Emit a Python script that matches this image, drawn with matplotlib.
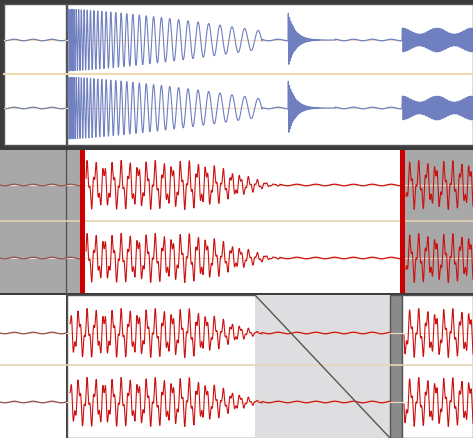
import matplotlib
matplotlib.use('Agg')
import numpy as np
import matplotlib.pyplot as plt
from matplotlib.patches import Rectangle

W, H = 473, 438
# track layout (pixel rows): top, bottom, channel centres, channel divider
TRACK_TOPS = [0, 150, 295]
TRACK_BOTS = [147, 293, 438]
CH_CENTRES = [[40, 108], [185, 258], [333, 402]]
CH_DIVIDERS = [74, 221, 365]

# clip edges in pixels
BLUE_CLIP = [67, 473]
RED_SEL = [84, 400]
FADE = [255, 390]
TRACK3_CLIP_B = [402, 473]

# waveform shape parameters (start, end, amplitude)
CHIRP = [68, 262, 31, 9]          # start x, end x, start amp, end amp
BURST = [288, 335, 28]
DENSE_BLUE = [402, 473, 12]
RED_WAVE = [86, 280, 22]


def chirp(x0, x1, a0, a1):
    x = np.linspace(x0, x1, 2500)
    u = (x - x0) / (x1 - x0)
    period = 1.6 + 12.5 * u ** 0.9
    phase = np.cumsum(2 * np.pi / period * (x[1] - x[0]))
    amp = a0 + (a1 - a0) * u ** 1.3
    return x, amp * np.sin(phase)


def burst(x0, x1, a):
    x = np.linspace(x0, x1, 600)
    env = a * np.exp(-(x - x0) / 7.0)
    return x, env * np.sin(2 * np.pi * (x - x0) / 1.2)


def dense(x0, x1, a):
    x = np.linspace(x0, x1, 800)
    env = a * (0.75 + 0.25 * np.cos(2 * np.pi * (x - x0) / 35))
    return x, env * np.sin(2 * np.pi * (x - x0) / 1.5)


def red(x0, x1, a, decay_from=200, decay_to=275):
    x = np.linspace(x0, x1, 1500)
    base = np.sin(2 * np.pi * x / 8.5) + 0.45 * np.sin(2 * np.pi * x / 3.1 + 1)
    env = np.where(x < decay_from, 1.0,
                   np.clip(1 - (x - decay_from) / (decay_to - decay_from), 0.05, 1))
    return x, a * env * base / 1.3


fig = plt.figure(figsize=(W / 100, H / 100), dpi=100)
ax = fig.add_axes([0, 0, 1, 1])
ax.set_xlim(0, W)
ax.set_ylim(H, 0)
ax.axis('off')
ax.add_patch(Rectangle((0, 0), W, H, color='#3c3c3c', zorder=0))

blue = '#6f7fc0'
redc = '#cc1010'


def flat(xa, xb, yc, col):
    x = np.linspace(xa, xb, 200)
    ax.plot(x, yc + 0.8 * np.sin(x / 3), color=col, lw=0.9, zorder=3)


def wave(x, y, yc, col):
    ax.plot(x, yc - y, color=col, lw=0.8, zorder=3)


# ---- track 1
t, b = TRACK_TOPS[0], TRACK_BOTS[0]
ax.add_patch(Rectangle((4, t + 4), 62, b - t - 6, fc='white', ec='#555555', lw=1, zorder=1))
ax.add_patch(Rectangle((BLUE_CLIP[0], t + 4), W - BLUE_CLIP[0], b - t - 6, fc='white', ec='#555555', lw=1, zorder=1))
ax.plot([4, W], [CH_DIVIDERS[0]] * 2, color='#efd9b0', lw=1.5, zorder=2)
for yc in CH_CENTRES[0]:
    ax.plot([4, W], [yc] * 2, color='#f0dcc0', lw=0.8, zorder=2)
    flat(6, 65, yc, '#7080a0')
    x, y = chirp(*CHIRP); wave(x, y, yc, blue)
    flat(262, 288, yc, blue)
    x, y = burst(*BURST); wave(x, y, yc, blue)
    flat(335, 402, yc, blue)
    x, y = dense(*DENSE_BLUE); wave(x, y, yc, blue)

# ---- track 2
t, b = TRACK_TOPS[1], TRACK_BOTS[1]
ax.add_patch(Rectangle((0, t), W, b - t, fc='#a8a8a8', zorder=1))
ax.add_patch(Rectangle((RED_SEL[0], t), RED_SEL[1] - RED_SEL[0], b - t, fc='white', zorder=1))
ax.plot([66, 66], [t, b], color='#555555', lw=1, zorder=2)
for xb in [80, RED_SEL[1]]:
    ax.add_patch(Rectangle((xb, t), 4.5, b - t, fc='#cc0000', zorder=4))
ax.plot([0, W], [CH_DIVIDERS[1]] * 2, color='#e8d4b8', lw=1.2, zorder=2)
for yc in CH_CENTRES[1]:
    ax.plot([0, W], [yc] * 2, color='#f0dcc0', lw=0.8, zorder=2)
    flat(0, 80, yc, '#905050')
    x, y = red(*RED_WAVE); wave(x, y, yc, redc)
    flat(280, 400, yc, redc)
    x, y = red(406, 473, 22, 999, 1000); wave(x, y, yc, redc)

# ---- track 3
t, b = TRACK_TOPS[2], TRACK_BOTS[2]
ax.add_patch(Rectangle((0, t), 66, b - t, fc='white', zorder=1))
ax.add_patch(Rectangle((67, t), FADE[1] - 67, b - t, fc='white', ec='#555555', lw=1, zorder=1))
ax.add_patch(Rectangle((FADE[0], t), FADE[1] - FADE[0], b - t, fc='#dedee0', zorder=1))
ax.add_patch(Rectangle((FADE[1], t), TRACK3_CLIP_B[0] - FADE[1], b - t, fc='#8a8a8a', ec='#555555', zorder=1))
ax.add_patch(Rectangle((TRACK3_CLIP_B[0], t), W - TRACK3_CLIP_B[0], b - t, fc='white', ec='#555555', lw=1, zorder=1))
ax.plot(FADE, [t, b], color='#555555', lw=1, zorder=4)
ax.plot([0, W], [CH_DIVIDERS[2]] * 2, color='#e8d4b8', lw=1.2, zorder=2)
for yc in CH_CENTRES[2]:
    ax.plot([0, W], [yc] * 2, color='#f0dcc0', lw=0.8, zorder=2)
    flat(0, 66, yc, '#905050')
    x, y = red(70, 262, 22, 195, 262); wave(x, y, yc, redc)
    flat(262, FADE[1], yc, redc)
    x, y = red(404, 473, 22, 999, 1000); wave(x, y, yc, redc)

fig.savefig('out.png', dpi=100)
